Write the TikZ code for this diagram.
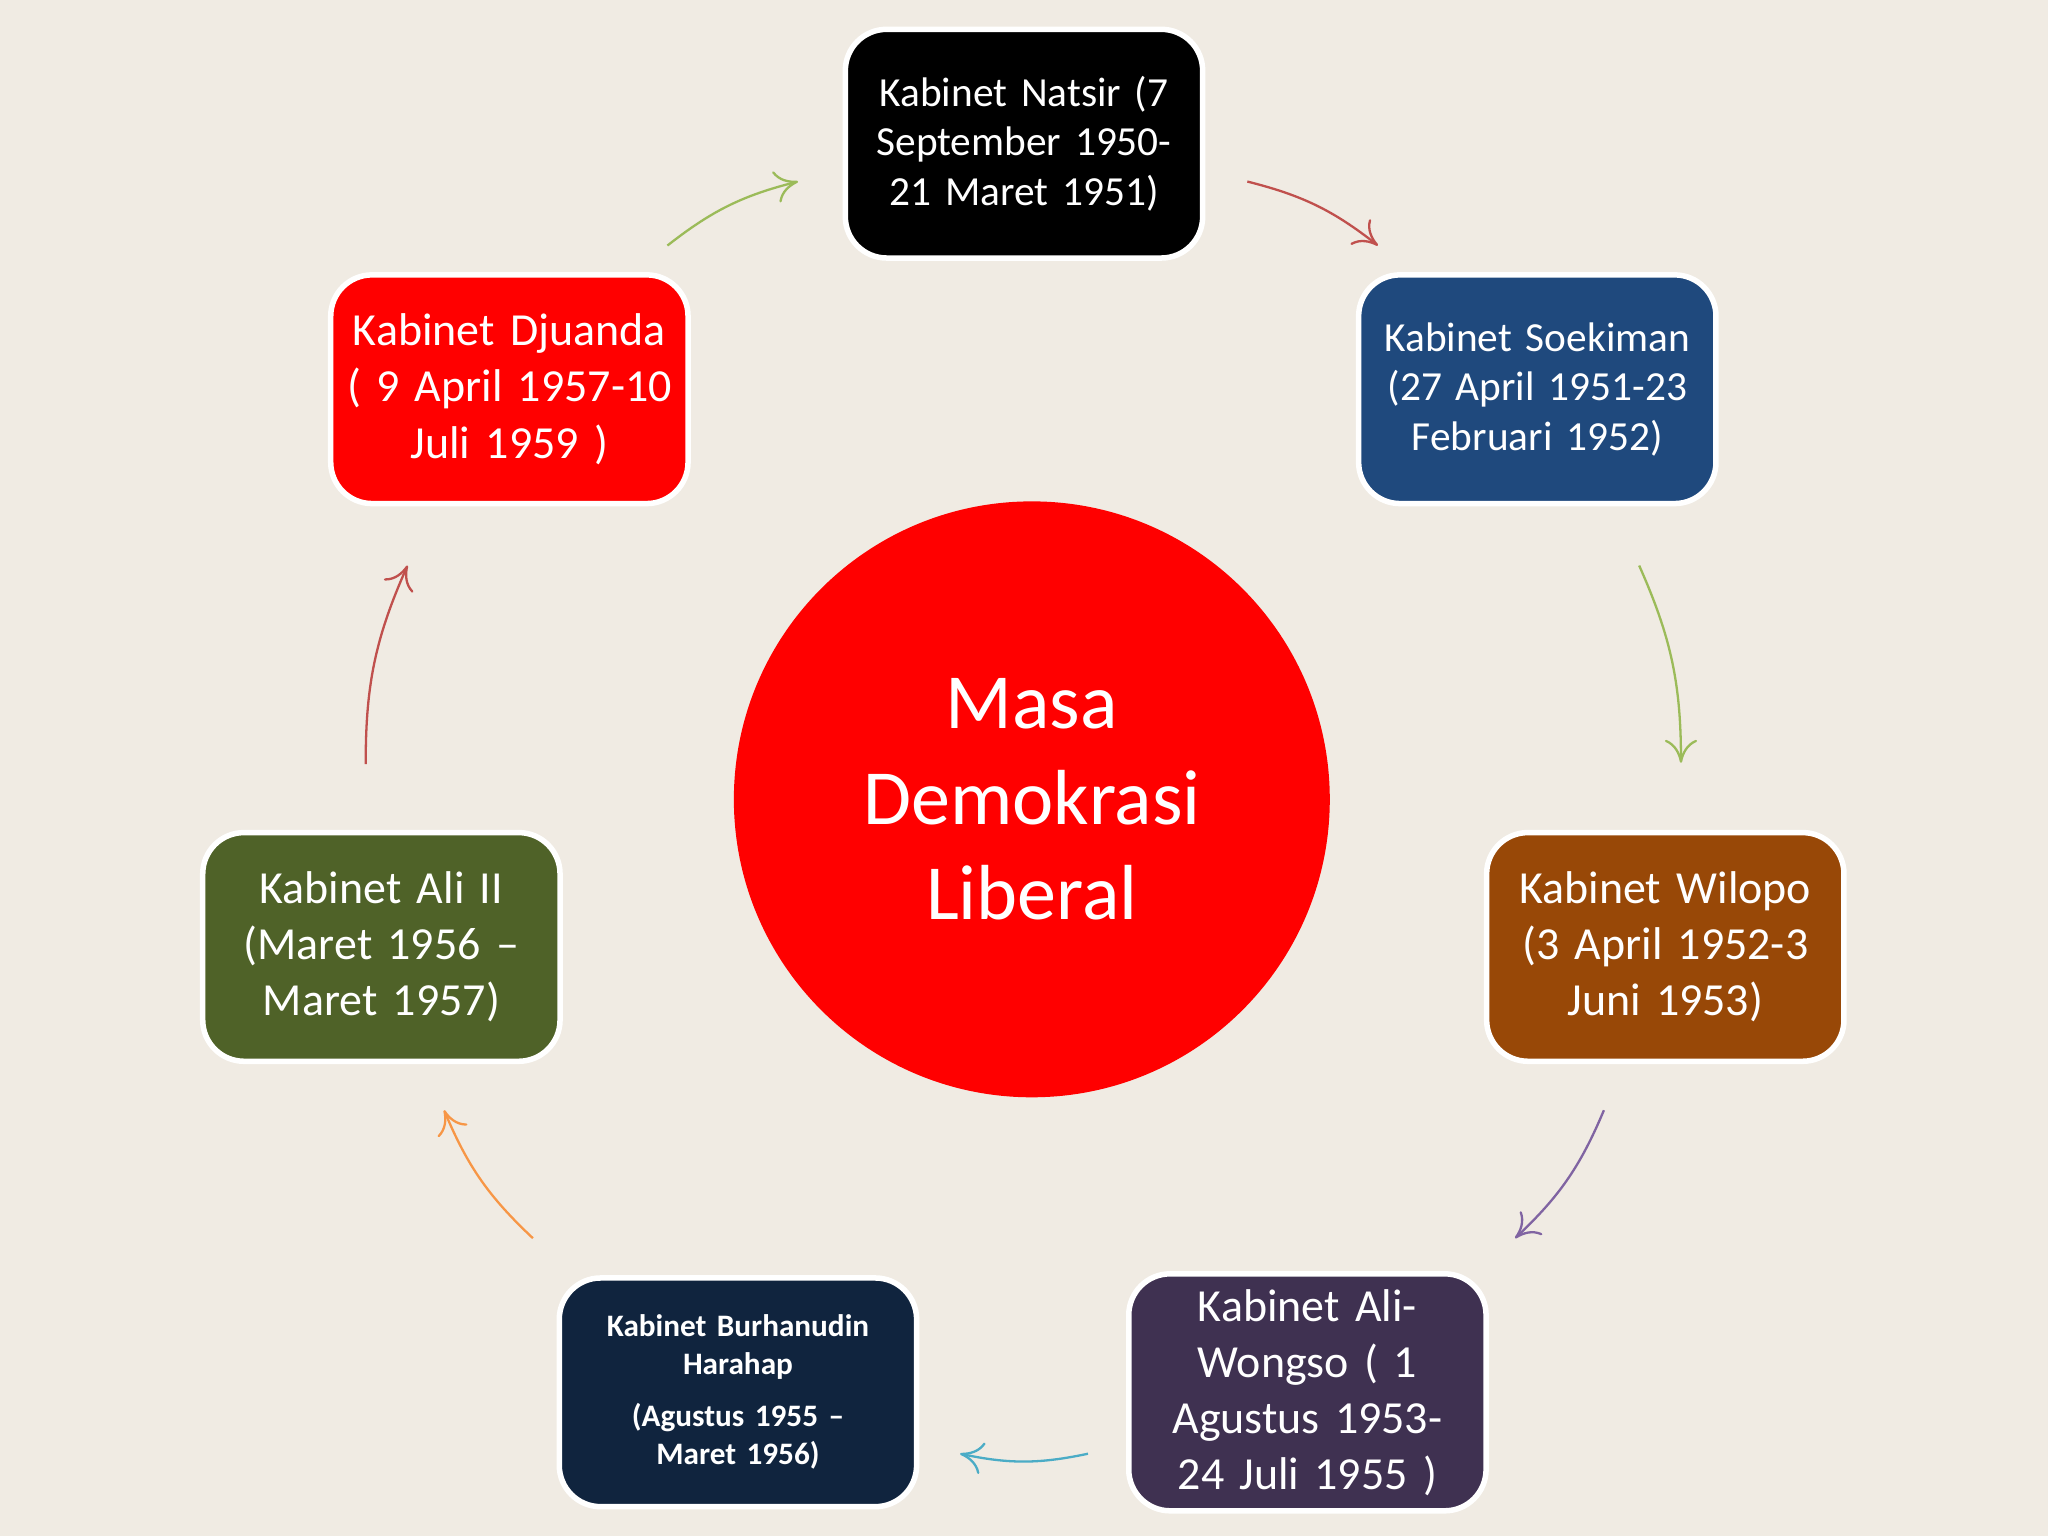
\documentclass[tikz,border=0pt]{standalone}
\usepackage{fontspec}
\setmainfont{Carlito}
\usetikzlibrary{arrows.meta}
\definecolor{bgcol}{HTML}{F0EBE3}
\definecolor{soekcol}{HTML}{1F497D}
\definecolor{wilcol}{HTML}{984807}
\definecolor{wongcol}{HTML}{3F3151}
\definecolor{burcol}{HTML}{10243E}
\definecolor{alicol}{HTML}{4F6228}
\definecolor{agreen}{HTML}{9BBB59}
\definecolor{ared}{HTML}{C0504D}
\definecolor{apurple}{HTML}{8064A2}
\definecolor{ateal}{HTML}{4BACC6}
\definecolor{aorange}{HTML}{F79646}
\tikzset{
  kab/.style={draw=white,line width=1.2pt,rounded corners=9pt,minimum width=2.68cm,
    minimum height=1.75cm,text width=2.5cm,align=center,text=white,font=\fontsize{10}{12.2}\selectfont},
  link/.style={-{To[length=5pt,width=7pt]},line width=0.5pt,bend left=12}
}
\begin{document}
\begin{tikzpicture}[x=0.01cm,y=-0.01cm]
  \fill[bgcol](0,0)rectangle(1568,1176);
  \useasboundingbox(0,0)rectangle(1568,1176);
  \node[circle,fill=red,minimum size=4.56cm,text=white,align=center,
        font=\fontsize{17}{20.8}\selectfont](masa)at(790,612){Masa\\Demokrasi\\Liberal};
  \node[kab,fill=black,font=\fontsize{9}{10.8}\selectfont](nat)at(784,110){Kabinet Natsir (7 September 1950-21 Maret 1951)};
  \node[kab,fill=soekcol,font=\fontsize{9}{10.8}\selectfont](soe)at(1177,298){Kabinet Soekiman (27 April 1951-23 Februari 1952)};
  \node[kab,fill=wilcol](wil)at(1275,725){Kabinet Wilopo (3 April 1952-3 Juni 1953)};
  \node[kab,fill=wongcol](won)at(1001,1066){Kabinet Ali-\\Wongso ( 1 Agustus 1953-\\24 Juli 1955 )};
  \node[kab,fill=burcol,font=\bfseries\fontsize{6.8}{8.3}\selectfont](bur)at(565,1066){Kabinet Burhanudin Harahap\\[3pt](Agustus 1955 --\\Maret 1956)};
  \node[kab,fill=alicol](ali)at(292,725){Kabinet Ali II (Maret 1956 -- Maret 1957)};
  \node[kab,fill=red](dju)at(390,298){Kabinet Djuanda ( 9 April 1957-10 Juli 1959 )};
  % arrow ends
  \coordinate(a1)at(511,188); \coordinate(b1)at(611,139);
  \coordinate(a2)at(955,139); \coordinate(b2)at(1055,188);
  \coordinate(a3)at(1255,433);\coordinate(b3)at(1287,584);
  \coordinate(a4)at(1228,850);\coordinate(b4)at(1160,948);
  \coordinate(a5)at(833,1113);\coordinate(b5)at(735,1113);
  \coordinate(a6)at(408,948); \coordinate(b6)at(340,850);
  \coordinate(a7)at(280,585); \coordinate(b7)at(312,433);
  \draw[link,agreen](a1)to(b1);
  \draw[link,ared](a2)to(b2);
  \draw[link,agreen](a3)to(b3);
  \draw[link,apurple](a4)to(b4);
  \draw[link,ateal](a5)to(b5);
  \draw[link,aorange](a6)to(b6);
  \draw[link,ared](a7)to(b7);
\end{tikzpicture}
\end{document}
